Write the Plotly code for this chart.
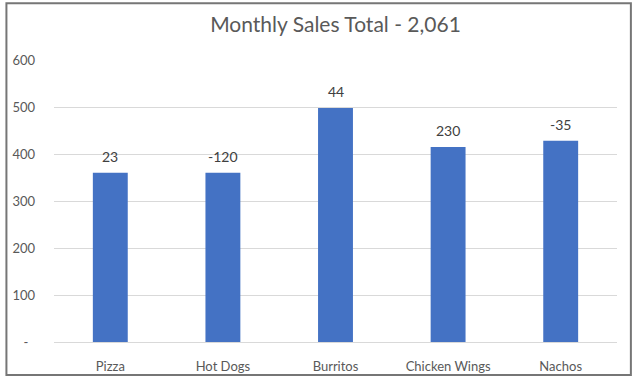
import plotly.graph_objects as go

categories = ["Pizza", "Hot Dogs", "Burritos", "Chicken Wings", "Nachos"]
sales = [360, 360, 498, 415, 428]
label_values = [23, -120, 44, 230, -35]
y_tickvals = [0, 100, 200, 300, 400, 500, 600]
y_ticktext = ["-\u00a0\u00a0", "100", "200", "300", "400", "500", "600"]

W, H = 632, 386
L, R, T, B = 49, 15, 59.5, 36
pw, ph = W - L - R, H - T - B

def px_to_paper_x(px):
    return (px - L) / pw

def px_to_paper_y(py):
    return (H - B - py) / ph

total = sum(sales)
font = "Lato"

fig = go.Figure(
    go.Bar(
        x=categories,
        y=sales,
        marker=dict(color="#4472C4", line=dict(width=0)),
        width=0.31,
        hoverinfo="x+y",
    )
)

for cat, val, lab in zip(categories, sales, label_values):
    fig.add_annotation(
        x=cat,
        y=val,
        text=str(lab),
        showarrow=False,
        yanchor="middle",
        yshift=16,
        font=dict(family=font, size=14, color="#404040"),
    )

fig.update_layout(
    width=W,
    height=H,
    margin=dict(l=L, r=R, t=T, b=B),
    paper_bgcolor="white",
    plot_bgcolor="white",
    showlegend=False,
    title=dict(
        text=f"Monthly Sales Total - {total:,}",
        x=0.5,
        xref="paper",
        xanchor="center",
        y=1 - 25 / H,
        yanchor="middle",
        font=dict(family=font, size=21, color="#595959"),
    ),
    font=dict(family=font, size=13, color="#595959"),
    bargap=0.69,
    shapes=[
        dict(
            type="rect",
            xref="paper",
            yref="paper",
            x0=px_to_paper_x(1),
            x1=px_to_paper_x(631),
            y0=px_to_paper_y(384),
            y1=px_to_paper_y(1),
            line=dict(color="#767676", width=2),
            fillcolor="rgba(0,0,0,0)",
            layer="above",
        )
    ],
)

fig.update_xaxes(
    showgrid=False,
    showline=True,
    linecolor="#d9d9d9",
    linewidth=1,
    ticks="",
    tickfont=dict(family=font, size=13, color="#595959"),
    ticklabelstandoff=12,
)

fig.update_yaxes(
    range=[0, 600],
    tickvals=y_tickvals,
    ticktext=y_ticktext,
    showgrid=True,
    gridcolor="#d9d9d9",
    gridwidth=1,
    zeroline=False,
    showline=False,
    ticks="",
    tickfont=dict(family=font, size=13, color="#595959"),
    ticklabelstandoff=18,
)

fig.write_html(
    "out.html",
    config={"displayModeBar": False},
    post_script="document.body.style.margin='0';document.body.style.overflow='hidden';",
)
